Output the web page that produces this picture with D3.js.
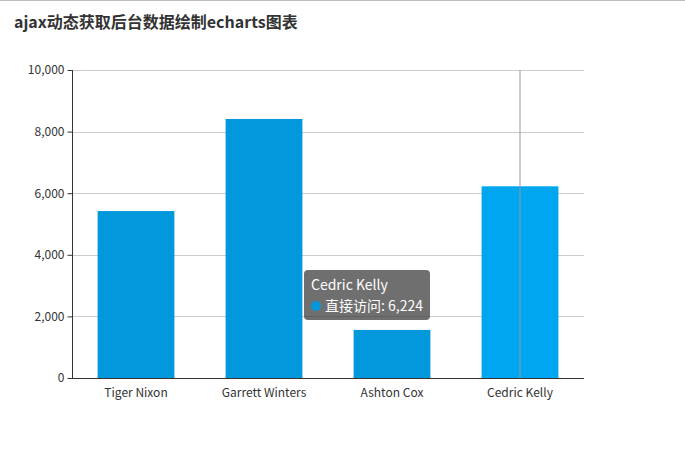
<!DOCTYPE html>
<html><head><meta charset="utf-8">
<script src="https://cdn.jsdelivr.net/npm/d3@7"></script>
<style>body{margin:0;background:#fff}svg{display:block}</style>
</head><body>
<svg id="c" width="685" height="471"></svg>
<script>
const categories=["Tiger Nixon","Garrett Winters","Ashton Cox","Cedric Kelly"];
const values=[5420,8410,1560,6224];
const yTicks=[0,2000,4000,6000,8000,10000];
const seriesName="直接访问";
const svg=d3.select("#c");
const font="'Microsoft YaHei','Noto Sans CJK SC','Open Sans',sans-serif";
svg.append("line").attr("x1",0).attr("x2",685).attr("y1",0.5).attr("y2",0.5).attr("stroke","#bbb");
svg.append("text").attr("x",14).attr("y",28).attr("font-family",font).attr("font-size",16).attr("font-weight","bold").attr("fill","#333").text("ajax动态获取后台数据绘制echarts图表");
const x=d3.scaleBand().domain(categories).range([72,584]).paddingInner(0.4).paddingOuter(0.2);
const xb=d3.scaleBand().domain(categories).range([72,584]);
const y=d3.scaleLinear().domain([0,10000]).range([378,70]);
const g=svg.append("g");
g.selectAll("line.grid").data(yTicks).join("line").attr("x1",72).attr("x2",584).attr("y1",d=>Math.round(y(d))+0.5).attr("y2",d=>Math.round(y(d))+0.5).attr("stroke","#ccc");
g.selectAll("rect").data(values).join("rect").attr("x",(d,i)=>x(categories[i])).attr("width",x.bandwidth()).attr("y",d=>y(d)).attr("height",d=>378-y(d)).attr("fill",(d,i)=>i===3?"#00a6f0":"#0398db");
const pl=xb("Cedric Kelly")+xb.bandwidth()/2;
g.append("line").attr("x1",pl).attr("x2",pl).attr("y1",70).attr("y2",378).attr("stroke","#999");
const ya=d3.axisLeft(y).tickValues(yTicks).tickFormat(d3.format(",")).tickSize(5);
const ay=svg.append("g").attr("transform","translate(72.5,0)").call(ya);
ay.select(".domain").attr("stroke","#333").attr("d","M0,70V378");
ay.selectAll("line").attr("stroke","#333");
ay.selectAll("text").attr("font-family",font).attr("font-size",12).attr("fill","#333");
const xa=d3.axisBottom(xb).tickSize(5);
const ax=svg.append("g").attr("transform","translate(0,378.5)").call(xa);
ax.select(".domain").attr("stroke","#333").attr("d","M72,0H584");
ax.selectAll(".tick line").remove();
ax.selectAll("text").attr("font-family",font).attr("font-size",12).attr("fill","#333").attr("dy","0.9em");
const tg=svg.append("g").attr("transform","translate(304,270)");
tg.append("rect").attr("width",126).attr("height",50).attr("rx",4).attr("fill","rgba(50,50,50,0.7)");
tg.append("text").attr("x",7).attr("y",20).attr("font-family",font).attr("font-size",14).attr("fill","#fff").text(categories[3]);
tg.append("circle").attr("cx",12).attr("cy",36).attr("r",5).attr("fill","#0398db");
tg.append("text").attr("x",21).attr("y",41).attr("font-family",font).attr("font-size",14).attr("fill","#fff").text(seriesName+": "+d3.format(",")(values[3]));
</script>
</body></html>
